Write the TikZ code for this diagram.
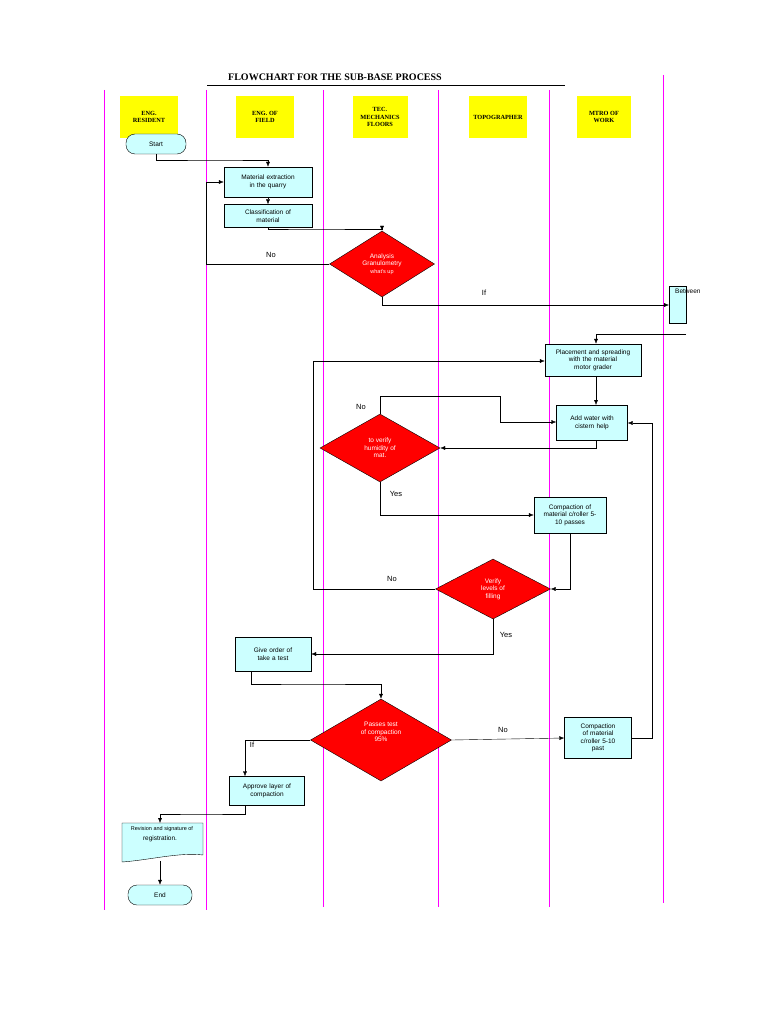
\documentclass[tikz,border=0pt]{standalone}
\usepackage{fontspec}
\setmainfont{Liberation Serif}
\setsansfont{Liberation Sans}
\usetikzlibrary{shapes.geometric,arrows.meta}
\definecolor{boxblue}{RGB}{204,255,255}
\definecolor{lanepink}{RGB}{255,0,255}
\definecolor{hdryellow}{RGB}{255,255,0}
\tikzset{
  lane/.style={lanepink, line width=0.9pt},
  hdr/.style={fill=hdryellow, minimum width=58pt, minimum height=42pt, align=center,
    font=\fontsize{6.3}{7.5}\selectfont\bfseries},
  proc/.style={draw, fill=boxblue, inner sep=1pt, align=center,
    font=\sffamily\fontsize{6.5}{7.5}\selectfont},
  term/.style={proc, rounded corners=9pt, minimum width=60pt, minimum height=20pt},
  dec/.style={diamond, draw, fill=red, text=white, inner sep=0pt, align=center,
    font=\sffamily\fontsize{6.5}{7.5}\selectfont},
  lbl/.style={font=\sffamily\fontsize{7.5}{9}\selectfont},
  flow/.style={-{Latex[length=5pt,width=4pt]}, thin}
}
\begin{document}
\begin{tikzpicture}[x=1pt,y=-1pt]
    \useasboundingbox (0,0) rectangle (768,1024);
    % Title
    \node[font=\fontsize{10}{12}\selectfont\bfseries] (title) at (335,77) {FLOWCHART FOR THE SUB-BASE PROCESS};
    \draw (207,85) -- (565,85);

    % Swim lanes
    \foreach \x/\yb in {104/910,206/910,323/907,438/907,549/907} {
        \draw[lane] (\x,90) -- (\x,\yb);
    }
    \draw[lane] (663,75) -- (663,903);

    % Lane headers
    \node[hdr] (hres) at (149,117) {ENG.\\RESIDENT};
    \node[hdr] (hfld) at (265,117) {ENG. OF\\FIELD};
    \node[hdr, minimum width=55pt] (htec) at (380,117) {TEC.\\MECHANICS\\FLOORS};
    \node[hdr] (htop) at (498,117) {TOPOGRAPHER};
    \node[hdr, minimum width=54pt] (hmtr) at (604,117) {MTRO OF\\WORK};

    % Process nodes
    \node[term] (start) at (156,144) {Start};
    \node[proc, minimum width=88pt, minimum height=30pt, text width=84pt] (extr) at (268,182) {Material extraction\\ in the quarry};
    \node[proc, minimum width=88pt, minimum height=23pt, text width=84pt] (class) at (268,216) {Classification of\\material};
    \node[dec, minimum width=105pt, minimum height=66pt, aspect=1.6] (gran) at (382,264) {Analysis\\Granulometry\\{\fontsize{5.5}{6.5}\selectfont what's up}};
    \node[proc, minimum width=17pt, minimum height=37pt, anchor=north west, text width=15pt, align=left] (betw) at (669,286) {};
    \node[anchor=north west, inner sep=0pt, font=\sffamily\fontsize{6.5}{7.5}\selectfont] (betwt) at (675,289) {Between};
    \node[proc, minimum width=96pt, minimum height=32pt, text width=92pt] (place) at (593,360) {Placement and spreading\\with the material\\motor grader};
    \node[proc, minimum width=71pt, minimum height=35pt, text width=67pt, anchor=north] (water) at (592,405) {Add water with\\cistern help\\[8pt]};
    \node[dec, minimum width=120pt, minimum height=68pt, aspect=1.75] (humid) at (380,448) {to verify\\humidity of\\mat.};
    \node[proc, minimum width=72pt, minimum height=36pt, text width=70pt] (comp1) at (570,515) {Compaction of\\material c/roller 5-\\10 passes};
    \node[dec, minimum width=115pt, minimum height=60pt, aspect=1.9] (level) at (493,589) {Verify\\levels of\\filling};
    \node[proc, minimum width=76pt, minimum height=34pt, text width=72pt] (order) at (273,654) {Give order of\\take a test\\[6pt]};
    \node[dec, minimum width=141pt, minimum height=82pt, aspect=1.72] (test) at (381,740) {Passes test\\of compaction\\95\%\\[8pt]};
    \node[proc, minimum width=67pt, minimum height=41pt, text width=65pt] (comp2) at (598,738) {Compaction\\of material\\c/roller 5-10\\past};
    \node[proc, minimum width=75pt, minimum height=29pt, text width=72pt] (appr) at (267,791) {Approve layer of\\compaction\\[5pt]};
    % Document shape
    \coordinate (docn) at (160,823);
    \draw[fill=boxblue] (122,823) -- (203,823) -- (203,855)
        .. controls (180,852) and (150,860) .. (122,862) -- cycle;
    \node[font=\sffamily\fontsize{5.5}{6.5}\selectfont, anchor=north, inner sep=0pt] (docl1) at (162,826) {Revision and signature of};
    \node[font=\sffamily\fontsize{6.5}{7.5}\selectfont, anchor=north, inner sep=0pt] (docl2) at (160,836) {registration.};
    \coordinate (docs) at (160,861);
    \node[term, minimum width=64pt] (end) at (160,895) {End};

    % Connectors
    \draw[flow] (start.south) |- (218,160) -| (extr.north);
    \draw[flow] (extr) -- (class);
    \draw[flow] (class.south) |- (308,229) -| (gran.north);
    \draw[flow] (gran.west) -| (206,182) -- (extr.west);
    \node[lbl] (lno1) at (271,255) {No};
    \draw[flow] (gran.south) |- (betw.west |- 0,305);
    \node[lbl] (lif1) at (484,293) {If};
    \draw[flow] (686,334) -| (place.north -| 596,0);
    \draw[flow] (place.south -| 596,0) -- (water.north -| 596,0);
    \draw[flow] (humid.north) |- (500,396) |- (water.west |- 0,422);
    \node[lbl] (lno2) at (361,407) {No};
    \draw[flow] (water.south -| 596,0) |- (humid.east);
    \draw[flow] (humid.south) |- (comp1.west);
    \node[lbl] (lyes1) at (396,494) {Yes};
    \draw[flow] (comp1.south) |- (level.east);
    \draw[flow] (level.west) -| (313,361) -- (place.west |- 0,361);
    \node[lbl] (lno3) at (392,579) {No};
    \draw[flow] (level.south) |- (order.east);
    \node[lbl] (lyes2) at (506,635) {Yes};
    \draw[flow] (order.south -| 251,0) |- (310,684) -| (test.north);
    \draw[flow] (test.east) -- (comp2.west);
    \node[lbl] (lno4) at (503,730) {No};
    \draw[flow] (comp2.east) -| (652,423) -- (water.east |- 0,423);
    \draw[flow] (test.west) -| (appr.north -| 245,0);
    \node[lbl] (lif2) at (252,745) {If};
    \draw[flow] (appr.south -| 245,0) |- (200,814) -| (docn);
    \draw[flow] (docs) -- (end.north);
\end{tikzpicture}
\end{document}
